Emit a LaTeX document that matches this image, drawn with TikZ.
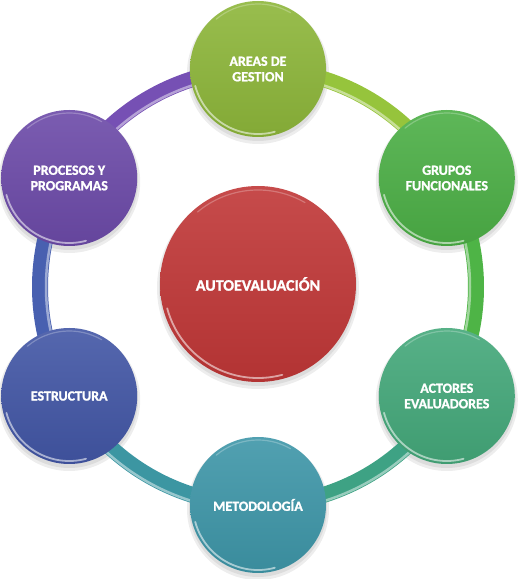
\documentclass[tikz,border=0pt]{standalone}
\usepackage{fontspec}
\setmainfont{Carlito}[BoldFont={Carlito Bold}, BoldFeatures={FakeBold=1.3}]
\usetikzlibrary{calc}
\pgfdeclarelayer{shadowlayer}
\pgfdeclarelayer{ringlayer}
\pgfsetlayers{shadowlayer,ringlayer,main}
\definecolor{cAreas}{RGB}{141,182,58}
\definecolor{cGrupos}{RGB}{76,175,70}
\definecolor{cActores}{RGB}{68,168,122}
\definecolor{cMetodo}{RGB}{62,150,168}
\definecolor{cEstr}{RGB}{66,86,165}
\definecolor{cProc}{RGB}{108,74,168}
\definecolor{cAuto}{RGB}{192,55,55}
\definecolor{tAreas}{RGB}{150,196,60}
\definecolor{tGrupos}{RGB}{78,180,70}
\definecolor{tActores}{RGB}{62,162,132}
\definecolor{tMetodo}{RGB}{60,150,162}
\definecolor{tEstr}{RGB}{72,96,176}
\definecolor{tProc}{RGB}{118,80,180}
\tikzset{
  x=1pt, y=1pt,
  bubble/.style={circle, minimum size=136pt, inner sep=0pt, align=center,
    text=white, font=\bfseries\fontsize{14}{15.5}\selectfont,
    top color=#1!90!white, bottom color=#1!93!black},
  bigbubble/.style={bubble=#1, minimum size=196pt,
    font=\bfseries\fontsize{16}{19}\selectfont},
  tube/.style={line width=16pt, draw=#1},
  tubehl/.style={line width=2.5pt, draw=#1!45!white, opacity=0.85},
  rim/.style={draw=white, opacity=0.55, line width=1.8pt, line cap=round},
  shade/.style={fill=black, opacity=0.07},
}
\begin{document}
\begin{tikzpicture}
\useasboundingbox (0,0) rectangle (520,579);
\coordinate (rc) at (258,292);
\node[bubble=cAreas]   (areas)  at ([shift={(90:218)}]rc)  {AREAS DE\\GESTION};
\node[bubble=cGrupos]  (grupos) at ([shift={(30:218)}]rc)  {GRUPOS\\FUNCIONALES};
\node[bubble=cActores] (actores) at ([shift={(-30:218)}]rc) {ACTORES\\EVALUADORES};
\node[bubble=cMetodo]  (metodo) at ([shift={(-90:218)}]rc) {METODOLOGÍA};
\node[bubble=cEstr]    (estr)   at ([shift={(-150:218)}]rc) {ESTRUCTURA};
\node[bubble=cProc]    (proc)   at ([shift={(150:218)}]rc) {PROCESOS Y\\PROGRAMAS};
\node[bigbubble=cAuto] (auto)   at (258,295) {AUTOEVALUACIÓN};

\begin{pgfonlayer}{ringlayer}
  \draw[tube=tAreas]   (areas.center)   arc[start angle=90,   end angle=30,   radius=218pt];
  \draw[tube=tGrupos]  (grupos.center)  arc[start angle=30,   end angle=-30,  radius=218pt];
  \draw[tube=tActores] (actores.center) arc[start angle=-30,  end angle=-90,  radius=218pt];
  \draw[tube=tMetodo]  (metodo.center)  arc[start angle=-90,  end angle=-150, radius=218pt];
  \draw[tube=tEstr]    (estr.center)    arc[start angle=-150, end angle=-210, radius=218pt];
  \draw[tube=tProc]    (proc.center)    arc[start angle=150,  end angle=90,   radius=218pt];
  \draw[tubehl=tAreas]   ([shift={(90:212)}]rc)   arc[start angle=90,   end angle=30,   radius=212pt];
  \draw[tubehl=tGrupos]  ([shift={(30:212)}]rc)   arc[start angle=30,   end angle=-30,  radius=212pt];
  \draw[tubehl=tActores] ([shift={(-30:224)}]rc)  arc[start angle=-30,  end angle=-90,  radius=224pt];
  \draw[tubehl=tMetodo]  ([shift={(-90:224)}]rc)  arc[start angle=-90,  end angle=-150, radius=224pt];
  \draw[tubehl=tEstr]    ([shift={(-150:212)}]rc) arc[start angle=-150, end angle=-210, radius=212pt];
  \draw[tubehl=tProc]    ([shift={(150:212)}]rc)  arc[start angle=150,  end angle=90,   radius=212pt];
\end{pgfonlayer}

\begin{pgfonlayer}{shadowlayer}
  \foreach \n/\r in {areas/68,grupos/68,actores/68,metodo/68,estr/68,proc/68,auto/98}{
    \fill[shade] ([yshift=-4pt]\n.center) circle[radius=\r pt+3pt];
    \fill[shade] ([yshift=-3pt]\n.center) circle[radius=\r pt+1pt];
  }
\end{pgfonlayer}

\foreach \n/\r in {areas/65,grupos/65,actores/65,metodo/65,estr/65,proc/65,auto/94}{
  \draw[rim] ([shift={(195:\r)}]\n.center) arc[start angle=195, end angle=285, radius=\r pt];
  \draw[draw=white, opacity=0.25, line width=1.2pt, line cap=round]
    ([shift={(60:\r)}]\n.center) arc[start angle=60, end angle=130, radius=\r pt];
}
\end{tikzpicture}
\end{document}
